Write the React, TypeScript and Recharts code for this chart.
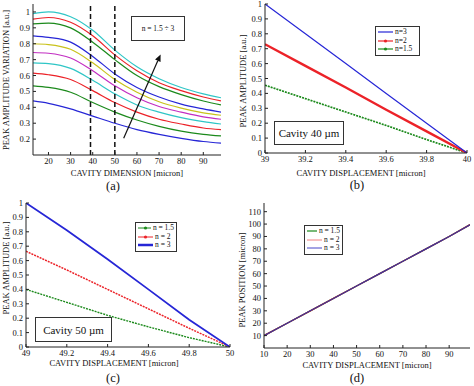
import React from 'react';
import { LineChart, Line, XAxis, YAxis, ReferenceLine, Legend } from 'recharts';

const SERIF = '"Liberation Serif", "Times New Roman", Times, serif';

// (a) peak amplitude variation vs cavity dimension, one curve per n (1.5 -> 3)
const cavityDim = [13, 20, 30, 40, 50, 60, 70, 80, 90, 98];
const ampN01 = [0.44, 0.425, 0.39, 0.345, 0.3, 0.26, 0.23, 0.205, 0.185, 0.175];
const ampN02 = [0.535, 0.525, 0.495, 0.43, 0.37, 0.32, 0.28, 0.25, 0.23, 0.22];
const ampN03 = [0.615, 0.605, 0.575, 0.505, 0.43, 0.37, 0.325, 0.295, 0.27, 0.26];
const ampN04 = [0.68, 0.675, 0.645, 0.57, 0.485, 0.415, 0.37, 0.335, 0.31, 0.295];
const ampN05 = [0.745, 0.74, 0.71, 0.63, 0.535, 0.46, 0.405, 0.37, 0.34, 0.325];
const ampN06 = [0.8, 0.795, 0.765, 0.68, 0.575, 0.495, 0.435, 0.395, 0.365, 0.35];
const ampN07 = [0.85, 0.84, 0.81, 0.72, 0.61, 0.525, 0.465, 0.42, 0.39, 0.37];
const ampN08 = [0.925, 0.93, 0.9, 0.81, 0.7, 0.6, 0.53, 0.48, 0.44, 0.415];
const ampN09 = [0.955, 0.965, 0.935, 0.85, 0.73, 0.63, 0.555, 0.505, 0.465, 0.44];
const ampN10 = [0.99, 1.0, 0.97, 0.885, 0.76, 0.655, 0.58, 0.525, 0.485, 0.46];
const dimTicks = [20, 30, 40, 50, 60, 70, 80, 90];
const ampVarTicks = [0.2, 0.3, 0.4, 0.5, 0.6, 0.7, 0.8, 0.9, 1];
const cavityMarks = [39, 50];
const arrowTail = { x: 54, y: 0.205 };
const arrowHead = { x: 70.7, y: 0.733 };

// (b) cavity 40 um
const disp40 = [39, 39.2, 39.4, 39.6, 39.8, 40];
const amp40N3 = [1, 0.8, 0.6, 0.4, 0.2, 0];
const amp40N2 = [0.73, 0.585, 0.44, 0.29, 0.145, 0];
const amp40N15 = [0.455, 0.365, 0.275, 0.185, 0.09, 0];
const disp40Ticks = [39, 39.2, 39.4, 39.6, 39.8, 40];

// (c) cavity 50 um
const disp50 = [49, 49.2, 49.4, 49.6, 49.8, 50];
const amp50N15 = [0.4, 0.31, 0.22, 0.14, 0.065, 0];
const amp50N2 = [0.665, 0.535, 0.4, 0.265, 0.13, 0];
const amp50N3 = [1, 0.81, 0.61, 0.4, 0.19, 0];
const disp50Ticks = [49, 49.2, 49.4, 49.6, 49.8, 50];
const ampTicks = [0, 0.1, 0.2, 0.3, 0.4, 0.5, 0.6, 0.7, 0.8, 0.9, 1];

// (d) peak position
const dispD = [10, 20, 30, 40, 50, 60, 70, 80, 90, 99];
const posN15 = [10, 20, 30, 40, 50, 60, 70, 80, 90, 99.5];
const posN2 = [10, 20, 30, 40, 50, 60, 70, 80, 90, 99.5];
const posN3 = [10, 20, 30, 40, 50, 60, 70, 80, 90, 99.5];
const dispDTicks = [10, 20, 30, 40, 50, 60, 70, 80, 90];
const posTicks = [10, 20, 30, 40, 50, 60, 70, 80, 90, 100, 110];

const BLUE = '#2626d6';
const RED = '#ec2228';
const GREEN = '#1c8a1c';
const CYAN = '#2fc6c6';
const MAGENTA = '#c22ec2';
const YELLOW = '#c9c21c';
const colorsA = [BLUE, GREEN, RED, CYAN, MAGENTA, YELLOW, BLUE, GREEN, RED, CYAN];

const seriesA = [ampN01, ampN02, ampN03, ampN04, ampN05, ampN06, ampN07, ampN08, ampN09, ampN10];
const rowsA = cavityDim.map((x, i) => {
  const r: any = { x };
  seriesA.forEach((s, k) => (r['s' + k] = s[i]));
  return r;
});
const rowsB = disp40.map((x, i) => ({ x, n3: amp40N3[i], n2: amp40N2[i], n15: amp40N15[i] }));
const rowsC = disp50.map((x, i) => ({ x, n3: amp50N3[i], n2: amp50N2[i], n15: amp50N15[i] }));
const rowsD = dispD.map((x, i) => ({ x, n3: posN3[i], n2: posN2[i], n15: posN15[i] }));

const tickStyle = { fontSize: 8.5, fontFamily: SERIF, fill: '#111' };

// matlab style box: inward ticks on all four sides
function frame(xDomain: number[], xTicks: number[], yDomain: number[], yTicks: number[], yWidth: number, xHeight: number) {
  return [
    <XAxis key="xb" type="number" dataKey="x" domain={xDomain} ticks={xTicks} interval={0} allowDataOverflow
      tick={tickStyle} tickSize={-3} tickMargin={6} height={xHeight} stroke="#222" />,
    <XAxis key="xt" xAxisId="top" orientation="top" type="number" dataKey="x" domain={xDomain} ticks={xTicks} interval={0}
      allowDataOverflow tick={false} tickSize={-3} height={0} stroke="#222" />,
    <YAxis key="yl" type="number" domain={yDomain} ticks={yTicks} interval={0} allowDataOverflow
      tick={tickStyle} tickSize={-3} tickMargin={6} width={yWidth} stroke="#222" />,
    <YAxis key="yr" yAxisId="right" orientation="right" type="number" domain={yDomain} ticks={yTicks} interval={0}
      allowDataOverflow tick={false} tickSize={-3} width={0} stroke="#222" />,
  ];
}

const Arrow = (p: any) => {
  const x1 = p.x1 ?? p.points?.[0]?.x;
  const y1 = p.y1 ?? p.points?.[0]?.y;
  const x2 = p.x2 ?? p.points?.[1]?.x;
  const y2 = p.y2 ?? p.points?.[1]?.y;
  const a = Math.atan2(y2 - y1, x2 - x1);
  const L = 7, W = 3;
  const bx = x2 - L * Math.cos(a), by = y2 - L * Math.sin(a);
  const head = [
    `${x2},${y2}`,
    `${bx + W * Math.sin(a)},${by - W * Math.cos(a)}`,
    `${bx - W * Math.sin(a)},${by + W * Math.cos(a)}`,
  ].join(' ');
  return (
    <g>
      <line x1={x1} y1={y1} x2={bx} y2={by} stroke="#111" strokeWidth={1.2} />
      <polygon points={head} fill="#111" />
    </g>
  );
};

type Item = { label: string; color: string; width: number; dash?: string; dot?: boolean };

const legendBox = (items: Item[]) => () => (
  <div style={{ border: '1px solid #333', background: '#fff', padding: '1px 2px', fontFamily: SERIF, fontSize: 7.5, lineHeight: '8.5px', color: '#111' }}>
    {items.map((it) => (
      <div key={it.label} style={{ display: 'flex', alignItems: 'center', whiteSpace: 'nowrap' }}>
        <svg width={15} height={6} style={{ marginRight: 2 }}>
          <line x1={0} y1={3} x2={15} y2={3} stroke={it.color} strokeWidth={it.width} strokeDasharray={it.dash} />
          {it.dot && <circle cx={7.5} cy={3} r={1.6} fill={it.color} />}
        </svg>
        <span>{it.label}</span>
      </div>
    ))}
  </div>
);

const Text = ({ x, y, size, children, rotate }: any) => (
  <div style={{
    position: 'absolute', left: x, top: y, transform: `translate(-50%, -50%)${rotate ? ' rotate(-90deg)' : ''}`,
    fontFamily: SERIF, fontSize: size, color: '#111', whiteSpace: 'nowrap', lineHeight: 1,
  }}>{children}</div>
);

const Boxed = ({ left, top, width, height, size, children }: any) => (
  <div style={{
    position: 'absolute', left, top, width, height, boxSizing: 'border-box', border: '1.3px solid #333', background: '#fff',
    display: 'flex', alignItems: 'center', justifyContent: 'center', fontFamily: SERIF, fontSize: size, color: '#111', whiteSpace: 'nowrap',
  }}>{children}</div>
);

const at = (left: number, top: number) => ({ position: 'absolute' as const, left, top });

export default function App() {
  return (
    <div style={{ position: 'absolute', left: 0, top: 0, width: 474, height: 386, background: '#fff', overflow: 'hidden' }}>
      {/* (a) */}
      <div style={at(0, 0)}>
        <LineChart width={237} height={193} data={rowsA} margin={{ top: 4, right: 16, bottom: 0, left: 0 }}>
          {frame([13, 98], dimTicks, [0.1, 1.05], ampVarTicks, 33, 38)}
          {seriesA.map((_, k) => (
            <Line key={k} type="monotone" dataKey={'s' + k} stroke={colorsA[k]} strokeWidth={1.2} dot={false} isAnimationActive={false} />
          ))}
          {cavityMarks.map((x) => (
            <ReferenceLine key={x} x={x} stroke="#111" strokeWidth={1.5} strokeDasharray="5 3" />
          ))}
          <ReferenceLine segment={[arrowTail, arrowHead]} shape={Arrow} ifOverflow="visible" />
        </LineChart>
        <Boxed left={131} top={16} width={54} height={25} size={7.5}>n = 1.5 ÷ 3</Boxed>
      </div>

      {/* (b) */}
      <div style={at(237, 0)}>
        <LineChart width={237} height={193} data={rowsB} margin={{ top: 4, right: 7, bottom: 0, left: 0 }}>
          {frame([39, 40], disp40Ticks, [0, 1], ampTicks, 28, 40)}
          <Line type="linear" dataKey="n15" stroke={GREEN} strokeWidth={1.7} strokeDasharray="2 1" dot={false} isAnimationActive={false} />
          <Line type="linear" dataKey="n2" stroke={RED} strokeWidth={2.4} dot={false} isAnimationActive={false} />
          <Line type="linear" dataKey="n3" stroke={BLUE} strokeWidth={1.2} dot={false} isAnimationActive={false} />
          <Legend layout="horizontal" verticalAlign="middle" align="center"
            wrapperStyle={{ left: 138, top: 26, width: 45, height: 27 }}
            content={legendBox([
              { label: 'n=3', color: BLUE, width: 1.2 },
              { label: 'n=2', color: RED, width: 1.2, dot: true },
              { label: 'n=1.5', color: GREEN, width: 1.2, dot: true },
            ])} />
        </LineChart>
        <Boxed left={37} top={121} width={70} height={24} size={11}>Cavity 40 µm</Boxed>
      </div>

      {/* (c) */}
      <div style={at(0, 193)}>
        <LineChart width={237} height={193} data={rowsC} margin={{ top: 10, right: 7, bottom: 0, left: 0 }}>
          {frame([49, 50], disp50Ticks, [0, 1], ampTicks, 26, 39)}
          <Line type="linear" dataKey="n15" stroke={GREEN} strokeWidth={1.4} strokeDasharray="2 1" dot={false} isAnimationActive={false} />
          <Line type="linear" dataKey="n2" stroke={RED} strokeWidth={1.5} strokeDasharray="2 1" dot={false} isAnimationActive={false} />
          <Line type="linear" dataKey="n3" stroke={BLUE} strokeWidth={1.8} dot={false} isAnimationActive={false} />
          <Legend layout="horizontal" verticalAlign="middle" align="center"
            wrapperStyle={{ left: 135, top: 29, width: 42, height: 27 }}
            content={legendBox([
              { label: 'n = 1.5', color: GREEN, width: 1, dot: true },
              { label: 'n = 2', color: RED, width: 1, dot: true },
              { label: 'n = 3', color: BLUE, width: 2.5 },
            ])} />
        </LineChart>
        <Boxed left={35} top={124} width={77} height={25} size={11}>Cavity 50 µm</Boxed>
      </div>

      {/* (d) */}
      <div style={at(237, 193)}>
        <LineChart width={237} height={193} data={rowsD} margin={{ top: 10, right: 4, bottom: 0, left: 0 }}>
          {frame([10, 99], dispDTicks, [0, 117], posTicks, 27, 38)}
          <Line type="linear" dataKey="n15" stroke={GREEN} strokeWidth={1.3} dot={false} isAnimationActive={false} />
          <Line type="linear" dataKey="n2" stroke={RED} strokeWidth={1.3} dot={false} isAnimationActive={false} />
          <Line type="linear" dataKey="n3" stroke="#3a349e" strokeWidth={1.2} dot={false} isAnimationActive={false} />
          <Legend layout="horizontal" verticalAlign="middle" align="center"
            wrapperStyle={{ left: 67, top: 32, width: 39, height: 30 }}
            content={legendBox([
              { label: 'n = 1.5', color: GREEN, width: 1.2 },
              { label: 'n = 2', color: '#f08080', width: 1 },
              { label: 'n = 3', color: '#4646c8', width: 1 },
            ])} />
        </LineChart>
      </div>

      <Text x={6} y={80} size={8.5} rotate>PEAK AMPLITUDE VARIATION [a.u.]</Text>
      <Text x={127} y={173} size={8.5}>CAVITY DIMENSION [micron]</Text>
      <Text x={113} y={186} size={12.5}>(a)</Text>

      <Text x={243} y={81} size={8.5} rotate>PEAK AMPLITUDE [a.u.]</Text>
      <Text x={361} y={173} size={8.5}>CAVITY DISPLACEMENT [micron]</Text>
      <Text x={357} y={185} size={12.5}>(b)</Text>

      <Text x={6} y={268} size={8.5} rotate>PEAK AMPLITUDE [a.u.]</Text>
      <Text x={114} y={363} size={8.5}>CAVITY DISPLACEMENT [micron]</Text>
      <Text x={113} y={378} size={12.5}>(c)</Text>

      <Text x={242} y={280} size={8.5} rotate>PEAK POSITION [micron]</Text>
      <Text x={367} y={365} size={8.5}>CAVITY DISPLACEMENT [micron]</Text>
      <Text x={357} y={378} size={12.5}>(d)</Text>
    </div>
  );
}
